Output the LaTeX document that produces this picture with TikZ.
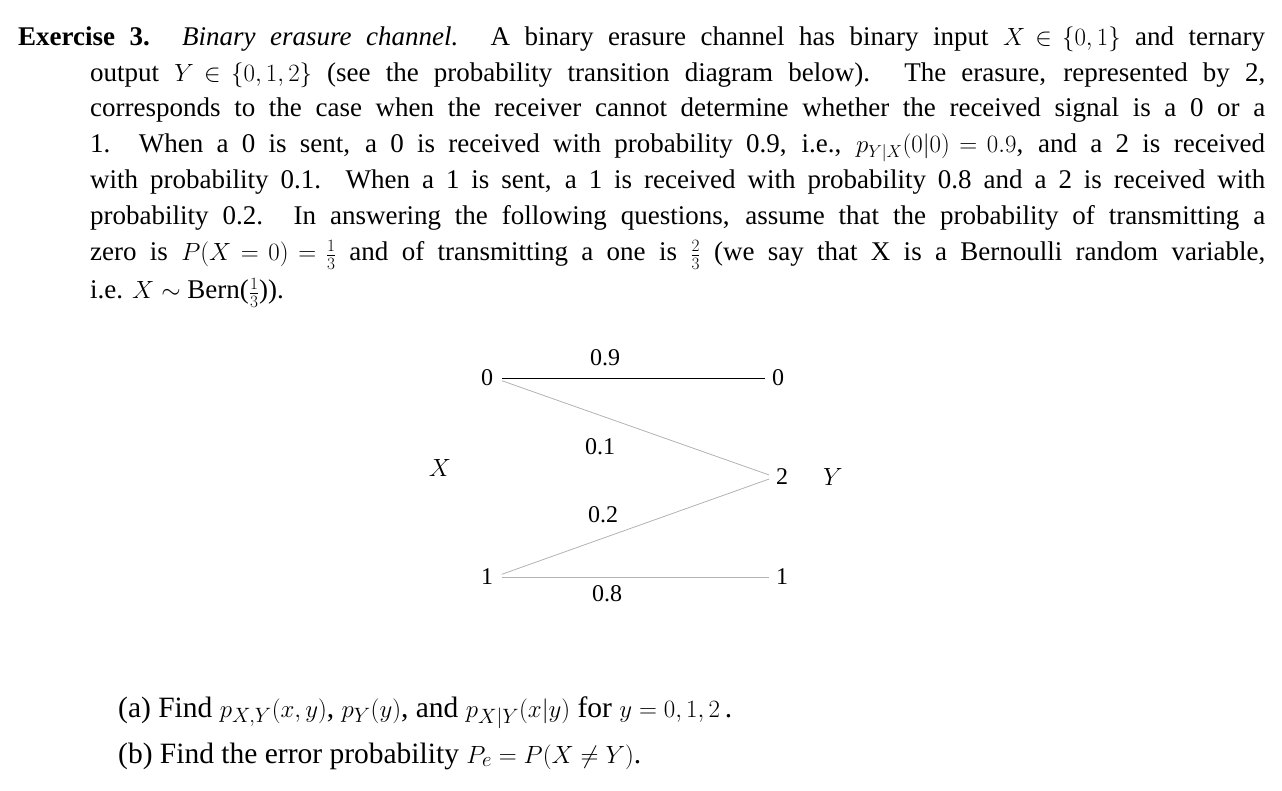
\documentclass[tikz,border=0pt]{standalone}
\usepackage{fontspec}
\setmainfont{Liberation Serif}
\thickmuskip=5mu plus 1mu
\medmuskip=4mu plus 1mu
\begin{document}
\begin{tikzpicture}[x=1pt,y=-1pt,
  ln/.style={anchor=base west,inner sep=0pt,font=\fontsize{27}{32}\selectfont},
  qn/.style={anchor=base west,inner sep=0pt,font=\fontsize{29.5}{34}\selectfont},
  lab/.style={inner sep=1pt,font=\fontsize{24}{28}\selectfont},
  gl/.style={draw=black!30,line width=0.8pt,shorten <=8pt,shorten >=6pt},
  bl/.style={line width=0.9pt,shorten <=8pt,shorten >=6pt}]
\useasboundingbox (0,0) rectangle (1282,791);
\node[ln] (l1) at (18,46) {\hbox to 1247pt{\textbf{Exercise 3.} \textit{Binary erasure channel.} A binary erasure channel has binary input $X\in\{0,1\}$ and ternary}};
\node[ln] (l2) at (90,82) {\hbox to 1175pt{output $Y\in\{0,1,2\}$ (see the probability transition diagram below). The erasure, represented by 2,}};
\node[ln] (l3) at (90,117) {\hbox to 1175pt{corresponds to the case when the receiver cannot determine whether the received signal is a 0 or a}};
\node[ln] (l4) at (90,153) {\hbox to 1175pt{1. When a 0 is sent, a 0 is received with probability 0.9, i.e., $p_{Y|X}(0|0)=0.9$, and a 2 is received}};
\node[ln] (l5) at (90,189) {\hbox to 1175pt{with probability 0.1. When a 1 is sent, a 1 is received with probability 0.8 and a 2 is received with}};
\node[ln] (l6) at (90,225) {\hbox to 1175pt{probability 0.2. In answering the following questions, assume that the probability of transmitting a}};
\node[ln] (l7) at (90,261) {\hbox to 1175pt{zero is $P(X=0)=\frac13$ and of transmitting a one is $\frac23$ (we say that X is a Bernoulli random variable,}};
\node[ln] (l8) at (90,299) {i.e. $X\sim$ Bern($\frac13$)).};

\node[lab] (a0) at (487,378) {0};
\node[lab] (a1) at (487,577) {1};
\node[lab] (b0) at (778,378) {0};
\node[lab] (b2) at (782,477) {2};
\node[lab] (b1) at (782,577) {1};
\node[lab] (X) at (440,468) {$X$};
\node[lab] (Y) at (833,477) {$Y$};
\draw[bl] (a0.east) -- (b0.west);
\draw[gl] (a0.east) -- (b2.west);
\draw[gl] (a1.east) -- (b2.west);
\draw[gl] (a1.east) -- (b1.west);
\node[lab] (p9) at (605,358) {0.9};
\node[lab] (p1) at (600,447) {0.1};
\node[lab] (p2) at (603,515) {0.2};
\node[lab] (p8) at (607,594) {0.8};

\node[qn] (q1) at (118,717) {(a) Find $p_{X,Y}(x,y)$, $p_Y(y)$, and $p_{X|Y}(x|y)$ for $y=0,1,2$\,.};
\node[qn] (q2) at (118,763) {(b) Find the error probability $P_e=P(X\neq Y)$.};
\end{tikzpicture}
\end{document}
